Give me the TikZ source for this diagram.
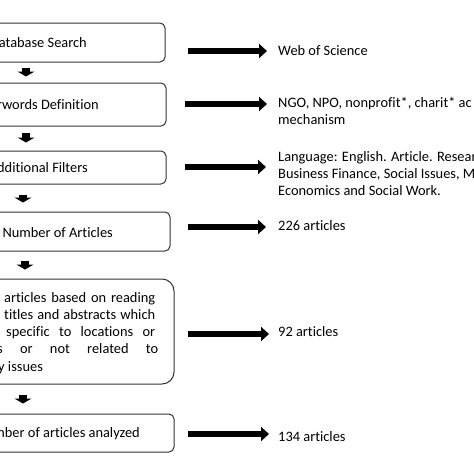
\documentclass[tikz,border=0pt]{standalone}
\usepackage{fontspec}
\setmainfont{Carlito}[Ligatures=NoCommon]
\usepackage{xcolor}
\usepackage{tikz}
\usetikzlibrary{
  positioning,
  arrows.meta,
  calc
}
\tikzset{
  >=Latex,
  stepbox/.style={rectangle,draw=black!80,line width=1pt,rounded corners=5pt,inner sep=0pt},
  boxtext/.style={inner sep=0pt,font=\fontsize{14.4}{17.25}\selectfont,text=black},
  sidetext/.style={inner sep=0pt,align=left,anchor=base west,font=\fontsize{14.4}{17}\selectfont,text=black},
  downarrow/.style={-{Triangle[length=5pt,width=17pt]},line width=8pt,black},
  sidearrow/.style={-{Triangle[length=8pt,width=14pt]},line width=6pt,black}
}

\begin{document}
\begin{tikzpicture}[x=1pt,y=-1pt]
    \useasboundingbox (0,0) rectangle (474,474);
    \clip (0,0) rectangle (474,474);

    % left column of steps
    \node[stepbox,minimum width=278pt,minimum height=39pt] (b1) at (26,42.5) {};
    \node[stepbox,minimum width=280pt,minimum height=43pt] (b2) at (26,104.5) {};
    \node[stepbox,minimum width=286pt,minimum height=33pt] (b3) at (23,167.5) {};
    \node[stepbox,minimum width=290pt,minimum height=39pt] (b4) at (25,231.5) {};
    \node[stepbox,minimum width=302pt,minimum height=105pt,rounded corners=12pt] (b5) at (23,331.5) {};
    \node[stepbox,minimum width=302pt,minimum height=38pt] (b6) at (23,433) {};

    \node[boxtext,anchor=base east] (l1) at (87,47) {atabase Search};
    \node[boxtext,anchor=base east] (l2) at (99,109) {rwords Definition};
    \node[boxtext,anchor=base east] (l3) at (88,172) {dditional Filters};
    \node[boxtext,anchor=base east] (l4) at (113,237) {Number of Articles};
    \node[boxtext,align=left,anchor=base west] (l5) at (-3,371) {%
      \hspace*{7pt}\makebox[151pt][s]{articles based on reading}\\
      \hspace*{7pt}\makebox[151pt][s]{titles and abstracts which}\\
      \hspace*{9pt}\makebox[149pt][s]{specific to locations or}\\
      \makebox[161pt][s]{s or not related to}\\
      \hspace*{1pt}y issues};
    \node[boxtext,anchor=base east] (l6) at (140,437) {mber of articles analyzed};

    % right column of results
    \node[sidetext] (t1) at (278,55) {Web of Science};
    \node[sidetext] (t2) at (278,124) {NGO, NPO, nonprofit*, charit* ac\\mechanism};
    \node[sidetext] (t3) at (278,195) {Language: English. Article. Resear\\Business Finance, Social Issues, M\\Economics and Social Work.};
    \node[sidetext] (t4) at (278,230) {226 articles};
    \node[sidetext] (t5) at (278,336) {92 articles};
    \node[sidetext] (t6) at (278,441) {134 articles};

    \coordinate (s1) at (188,51);
    \coordinate (s2) at (185,104);
    \coordinate (s3) at (185,167);
    \coordinate (s4) at (188,227);
    \coordinate (s5) at (188,334);
    \coordinate (s6) at (188,434);

    % connectors
    \draw[downarrow,shorten <=5pt,shorten >=6pt] (b1.south) -- (b1.south |- b2.north);
    \draw[downarrow,shorten <=6pt,shorten >=8pt] (b2.south) -- (b2.south |- b3.north);
    \draw[downarrow,shorten <=10pt,shorten >=9pt] (b3.south) -- (b3.south |- b4.north);
    \draw[downarrow,shorten <=9pt,shorten >=9pt] (b4.south) -- (b4.south |- b5.north);
    \draw[downarrow,shorten <=10pt,shorten >=10pt] (b5.south) -- (b5.south |- b6.north);

    \draw[sidearrow,shorten >=11pt] (s1) -- (s1 -| t1.west);
    \draw[sidearrow,shorten >=11pt] (s2) -- (s2 -| t2.west);
    \draw[sidearrow,shorten >=12pt] (s3) -- (s3 -| t3.west);
    \draw[sidearrow,shorten >=12pt] (s4) -- (s4 -| t4.west);
    \draw[sidearrow,shorten >=9pt] (s5) -- (s5 -| t5.west);
    \draw[sidearrow,shorten >=9pt] (s6) -- (s6 -| t6.west);
\end{tikzpicture}
\end{document}
